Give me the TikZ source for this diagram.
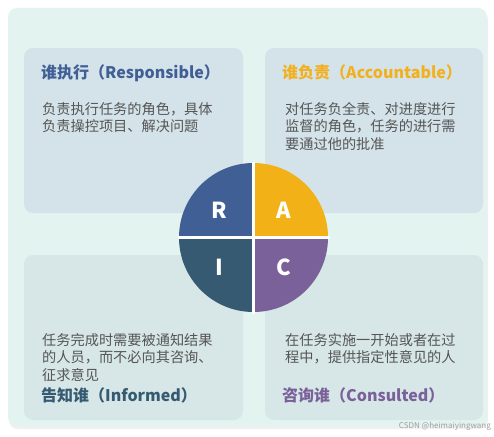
\documentclass[tikz,border=0pt]{standalone}
\usepackage{fontspec}
\setmainfont{Noto Sans CJK SC}
\definecolor{panelc}{HTML}{E2F3F0}
\definecolor{boxtop}{HTML}{D4E3E9}
\definecolor{boxbot}{HTML}{D7E7E7}
\definecolor{Rc}{HTML}{3F5F95}
\definecolor{Ac}{HTML}{F2B217}
\definecolor{Ic}{HTML}{355A72}
\definecolor{Cc}{HTML}{7A619A}
\definecolor{Atitle}{HTML}{F2B01E}
\definecolor{bodyc}{HTML}{555555}
\tikzset{
  card/.style={rounded corners=9pt},
  ttl/.style={anchor=base west, inner sep=0pt, font=\fontsize{16}{18}\selectfont\bfseries},
  body/.style={anchor=base west, inner sep=0pt, text=bodyc, align=left, font=\fontsize{14.2}{17.8}\selectfont},
  letter/.style={text=white, inner sep=0pt, font=\fontsize{22}{24}\selectfont\bfseries}
}
\begin{document}
\begin{tikzpicture}[x=1pt,y=-1pt]
\useasboundingbox (0,0) rectangle (494,436);
\fill[white] (0,0) rectangle (494,436);
\fill[black!6, rounded corners=9pt] (9,11) rectangle (488,429);
\fill[panelc, rounded corners=9pt] (8,8) rectangle (487,426);
% cards
\fill[boxtop, card] (24,48) rectangle (243,213);
\fill[boxtop, card] (265,48) rectangle (483,213);
\fill[boxbot, card] (24,255) rectangle (243,420);
\fill[boxbot, card] (265,255) rectangle (483,420);
% circle
\begin{scope}[shift={(253.5,237.5)}]
\fill[Cc] (0,0) -- (74.5,0) arc[start angle=0, end angle=90, radius=74.5] -- cycle;
\fill[Ic] (0,0) -- (0,74.5) arc[start angle=90, end angle=180, radius=74.5] -- cycle;
\fill[Rc] (0,0) -- (-74.5,0) arc[start angle=180, end angle=270, radius=74.5] -- cycle;
\fill[Ac] (0,0) -- (0,-74.5) arc[start angle=270, end angle=360, radius=74.5] -- cycle;
\draw[white, line width=2.2pt] (-76,0) -- (76,0);
\draw[white, line width=2.2pt] (0,-76) -- (0,76);
\end{scope}
\node[letter] (lr) at (219,210) {R};
\node[letter] (la) at (284,210) {A};
\node[letter] (li) at (219,267) {I};
\node[letter] (lc) at (284,267) {C};
% texts (multi-line nodes: base anchor = last line baseline)
\node[ttl, text=Rc] (tr) at (41,78) {谁执行（Responsible）};
\node[body] (br) at (42,131.8) {负责执行任务的角色，具体\\负责操控项目、解决问题};
\node[ttl, text=Atitle] (ta) at (282,78) {谁负责（Accountable）};
\node[body] (ba) at (285,149.6) {对任务负全责、对进度进行\\监督的角色，任务的进行需\\要通过他的批准};
\node[body] (bi) at (42,380.6) {任务完成时需要被通知结果\\的人员，而不必向其咨询、\\征求意见};
\node[ttl, text=Ic] (ti) at (41,401) {告知谁（Informed）};
\node[body] (bc) at (285,362.8) {在任务实施一开始或者在过\\程中，提供指定性意见的人};
\node[ttl, text=Cc] (tc) at (282,401) {咨询谁（Consulted）};
\node[anchor=base east, inner sep=0pt, text=black!38, font=\fontsize{8}{9}\selectfont] (wm) at (491,428) {CSDN @heimaiyingwang};
\end{tikzpicture}
\end{document}
